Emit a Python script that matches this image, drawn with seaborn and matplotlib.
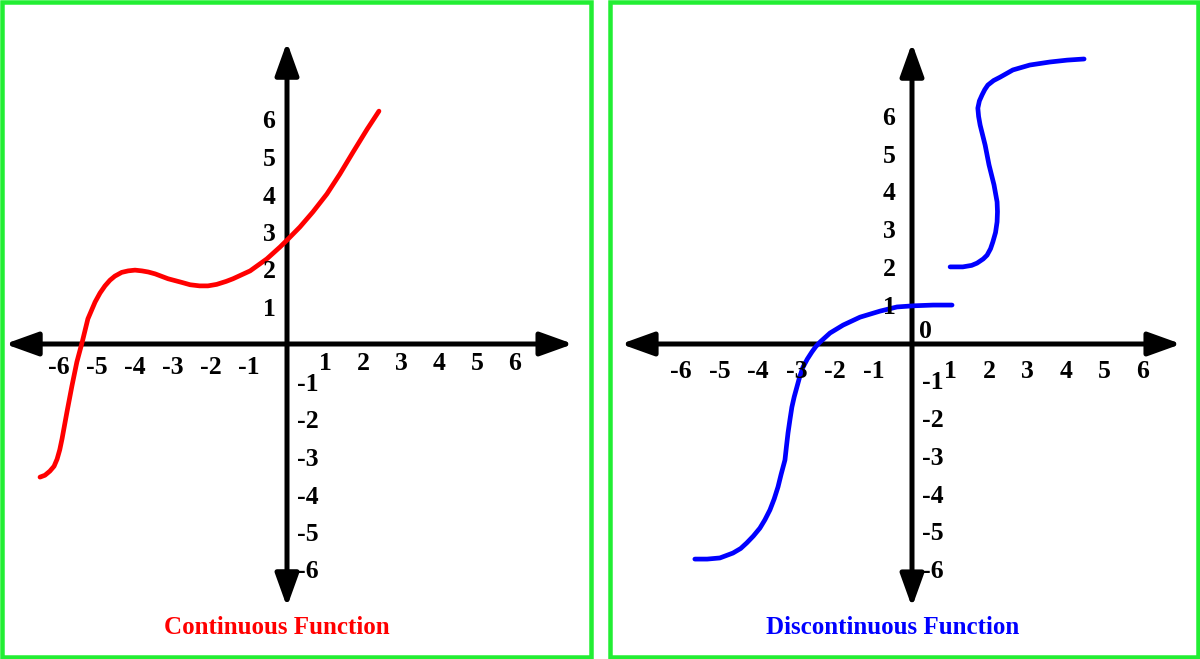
import matplotlib
matplotlib.use("Agg")
import matplotlib.pyplot as plt
import seaborn as sns
from matplotlib.patches import Rectangle, ArrowStyle
from matplotlib.transforms import offset_copy

# ---------------- data ----------------
tick_values = [-6, -5, -4, -3, -2, -1, 1, 2, 3, 4, 5, 6]
tick_labels = ["-6", "-5", "-4", "-3", "-2", "-1", "1", "2", "3", "4", "5", "6"]

red_x = [-6.50, -6.37, -6.24, -6.13, -6.05, -5.98, -5.92, -5.79, -5.66, -5.53,
         -5.39, -5.24, -5.05, -4.92, -4.79, -4.66, -4.53, -4.35, -4.18, -4.00,
         -3.82, -3.65, -3.47, -3.13, -2.76, -2.55, -2.30, -2.08, -1.85, -1.60,
         -1.42, -0.97, -0.53, -0.18, 0.03, 0.34, 0.68, 1.05, 1.39, 1.74, 2.11, 2.42]
red_y = [-3.55, -3.50, -3.39, -3.26, -3.07, -2.82, -2.53, -1.81, -1.12, -0.48,
         0.05, 0.67, 1.12, 1.36, 1.55, 1.70, 1.81, 1.91, 1.95, 1.97,
         1.95, 1.92, 1.87, 1.74, 1.64, 1.58, 1.55, 1.55, 1.59, 1.67,
         1.74, 1.95, 2.27, 2.59, 2.80, 3.12, 3.52, 4.00, 4.53, 5.12, 5.73, 6.21]

blue_low_x = [-5.64, -5.32, -4.99, -4.65, -4.45, -4.29, -4.12, -3.95, -3.82, -3.69,
              -3.58, -3.48, -3.40, -3.30, -3.26, -3.22, -3.17, -3.12, -3.06, -2.99,
              -2.92, -2.83, -2.72, -2.60, -2.50, -2.39, -2.13, -1.79, -1.35, -0.83,
              -0.39, 0.03, 0.55, 1.04]
blue_low_y = [-5.69, -5.69, -5.66, -5.53, -5.41, -5.26, -5.08, -4.87, -4.65, -4.39,
              -4.10, -3.78, -3.45, -3.07, -2.70, -2.35, -2.00, -1.67, -1.40, -1.14,
              -0.88, -0.61, -0.40, -0.21, -0.07, 0.05, 0.29, 0.50, 0.71, 0.87,
              0.98, 1.01, 1.03, 1.03]

blue_up_x = [0.99, 1.32, 1.55, 1.69, 1.85, 1.95, 2.04, 2.10, 2.17, 2.21,
             2.22, 2.21, 2.13, 2.00, 1.90, 1.77, 1.73, 1.71, 1.75, 1.82,
             1.89, 1.97, 2.12, 2.29, 2.62, 3.06, 3.58, 4.03, 4.47]
blue_up_y = [2.04, 2.04, 2.08, 2.14, 2.25, 2.35, 2.52, 2.70, 2.95, 3.23,
             3.50, 3.76, 4.21, 4.74, 5.26, 5.79, 6.02, 6.24, 6.43, 6.59,
             6.73, 6.85, 6.97, 7.06, 7.25, 7.38, 7.46, 7.51, 7.54]

titles = ["Continuous Function", "Discontinuous Function"]

# ---------------- style ----------------
sns.set_style("white")
plt.rcParams["font.family"] = ["Liberation Serif", "DejaVu Serif"]

W, H = 1200, 659
fig = plt.figure(figsize=(W / 100, H / 100), dpi=100)
fig.patch.set_facecolor("white")

GREEN = "#22EE33"
FS = 18.5

def make_axes(px0, px1, ox, oy, ux, uy):
    ax = fig.add_axes([px0 / W, 0, (px1 - px0) / W, 1])
    ax.set_xlim((px0 - ox) / ux, (px1 - ox) / ux)
    ax.set_ylim((oy - H) / uy, oy / uy)
    ax.axis("off")
    return ax

def draw_axes_arrows(ax, xl, xr, yb, yt):
    style = ArrowStyle("<|-|>", head_length=1.0, head_width=0.36)
    for xy, xytext in [((xr, 0), (xl, 0)), ((0, yt), (0, yb))]:
        ax.annotate("", xy=xy, xytext=xytext,
                    arrowprops=dict(arrowstyle=style, mutation_scale=20,
                                    lw=3.6, color="black", shrinkA=0, shrinkB=0),
                    zorder=1)

def place(ax, x, y, s, dx, dy):
    tr = offset_copy(ax.transData, fig=fig, x=dx, y=-dy, units="dots")
    ax.text(x, y, s, transform=tr, ha="center", va="center",
            fontsize=FS, fontweight="bold", color="black", zorder=5)

line_kw = dict(lw=3.4, sort=False, estimator=None, solid_capstyle="round",
               solid_joinstyle="round", zorder=3)

# ---------------- left panel ----------------
axL = make_axes(0, 600, 287, 344, 38.0, 37.5)
draw_axes_arrows(axL, -7.42, 7.53, -7.01, 8.05)
for v, s in zip(tick_values, tick_labels):
    place(axL, v, 0, s, 0, 24 if v < 0 else 19)
    place(axL, 0, v, s, -18 if v > 0 else 21, 3)
sns.lineplot(x=red_x, y=red_y, ax=axL, color="#FF0000", **line_kw)

# ---------------- right panel ----------------
axR = make_axes(600, 1200, 912, 344, 38.5, 37.8)
draw_axes_arrows(axR, -7.56, 6.99, -6.96, 7.96)
for v, s in zip(tick_values, tick_labels):
    place(axR, v, 0, s, 0, 28)
    place(axR, 0, v, s, -23 if v > 0 else 21, 1)
place(axR, 0, 0, "0", 13, -12)
sns.lineplot(x=blue_low_x, y=blue_low_y, ax=axR, color="#0000FF", **line_kw)
sns.lineplot(x=blue_up_x, y=blue_up_y, ax=axR, color="#0000FF", **line_kw)

# ---------------- titles ----------------
fig.text(277 / W, 1 - 628 / H, titles[0], ha="center", va="center",
         fontsize=18, fontweight="bold", color="#FF0000")
fig.text(893 / W, 1 - 627 / H, titles[1], ha="center", va="center",
         fontsize=18, fontweight="bold", color="#0000FF")

# ---------------- green frames ----------------
lw_px = 4.5
for x0, x1 in [(0, 593), (608, 1200)]:
    r = Rectangle(((x0 + lw_px / 2) / W, (lw_px / 2) / H),
                  (x1 - x0 - lw_px) / W, (H - lw_px) / H,
                  transform=fig.transFigure, fill=False,
                  edgecolor=GREEN, lw=lw_px * 72 / 100)
    fig.add_artist(r)

fig.savefig("out.png", dpi=100, facecolor="white")
